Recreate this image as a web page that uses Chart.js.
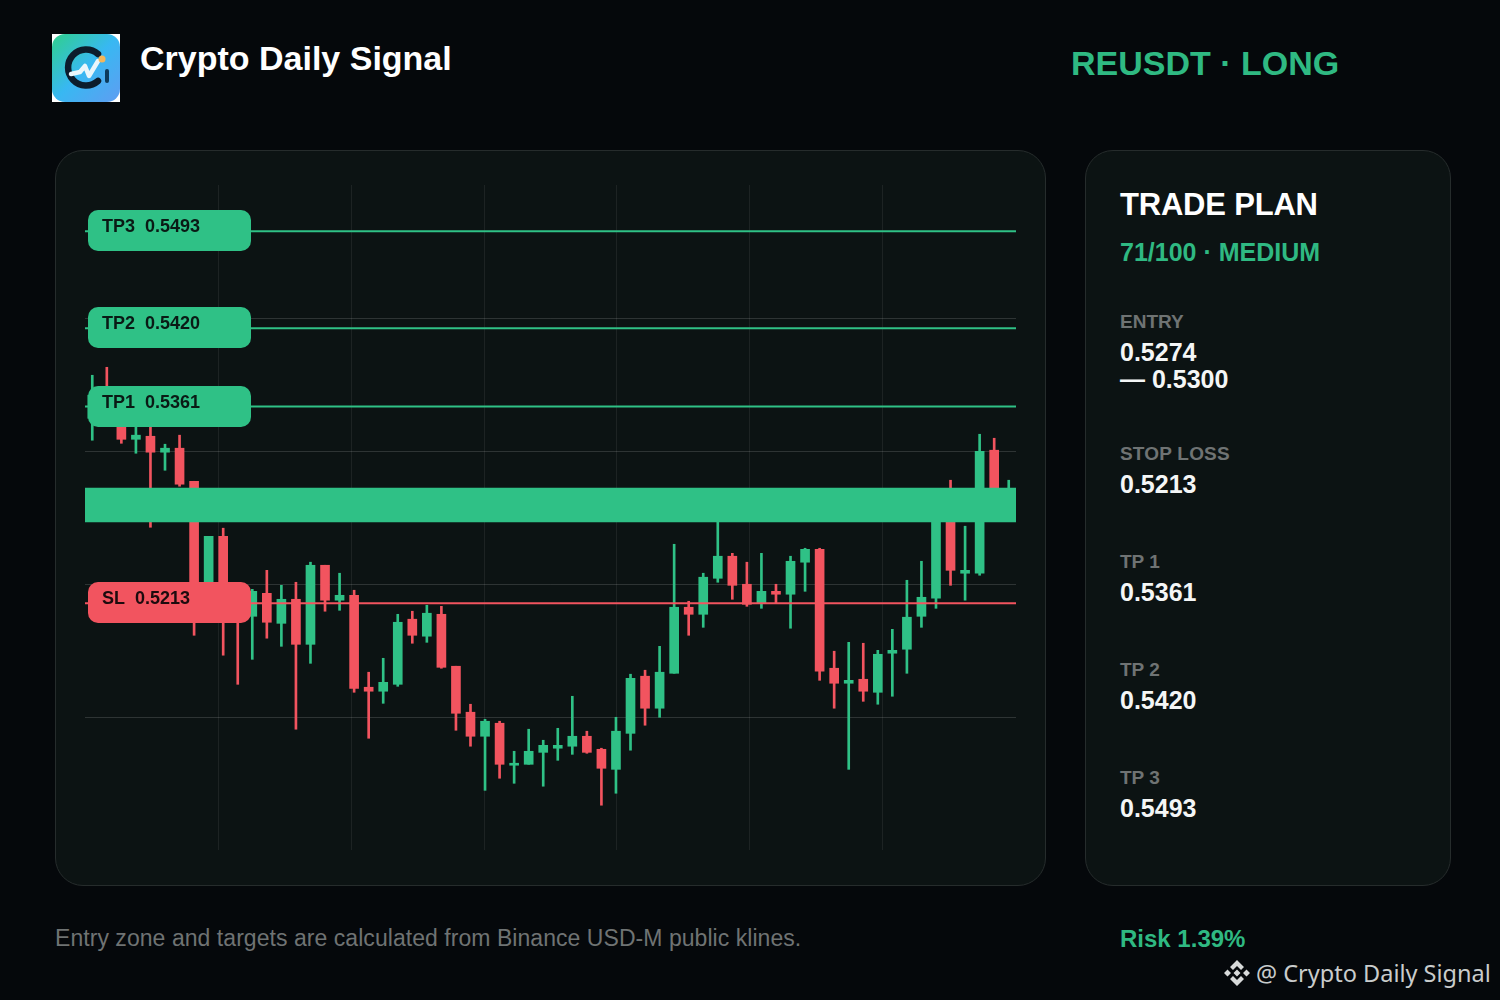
<!DOCTYPE html>
<html>
<head>
<meta charset="utf-8">
<title>REUSDT LONG</title>
<script src="https://cdn.jsdelivr.net/npm/chart.js@4/dist/chart.umd.min.js"></script>
<style>
    html, body { margin: 0; padding: 0; background: #05080b; }
    #page { position: relative; width: 1500px; height: 1000px; overflow: hidden; background: #05080b; font-family: "Liberation Sans", Arial, sans-serif; }
    .card { position: absolute; box-sizing: border-box; background: #0c1313; border: 1px solid #262c2c; border-radius: 28px; }
    .t { position: absolute; white-space: nowrap; }
    .label { left: 1120px; font-size: 19px; line-height: 19px; font-weight: bold; color: #6f7373; }
    .value { left: 1120px; font-size: 25px; line-height: 25px; font-weight: bold; color: #f4f6f6; }
    canvas { position: absolute; left: 85px; top: 185px; }
</style>
</head>
<body>
<div id="page">
    <svg style="position:absolute;left:52px;top:34px" width="68" height="68" viewBox="0 0 68 68">
        <defs>
            <linearGradient id="logoFill" x1="0" y1="0" x2="1" y2="1">
                <stop offset="0" stop-color="#2fd08c"/>
                <stop offset="0.5" stop-color="#38b8f2"/>
                <stop offset="1" stop-color="#5f9df2"/>
            </linearGradient>
        </defs>
        <rect width="68" height="68" fill="#ffffff"/>
        <rect width="68" height="68" rx="13" fill="url(#logoFill)"/>
        <path d="M46 20 A18 18 0 1 0 46 47" fill="none" stroke="#0c1c2c" stroke-width="6.5" stroke-linecap="round"/>
        <path d="M19 40 L28 38 L33 32 L37 42 L46 27" fill="none" stroke="#eaf6fb" stroke-width="4.5" stroke-linecap="round" stroke-linejoin="round"/>
        <circle cx="50" cy="25" r="3.5" fill="#f5b65a"/>
        <rect x="53" y="35" width="4" height="14" rx="2" fill="#0c3a5c"/>
    </svg>
    <div class="t" style="left:140px;top:41px;font-size:34px;line-height:34px;font-weight:bold;color:#fff">Crypto Daily Signal</div>
    <div class="t" style="left:1071px;top:46px;font-size:34px;line-height:34px;font-weight:bold;color:#2fb982">REUSDT · LONG</div>

    <div class="card" style="left:55px;top:150px;width:991px;height:736px"></div>
    <div class="card" style="left:1085px;top:150px;width:366px;height:736px"></div>
    <canvas id="chart" width="931" height="665"></canvas>

    <div class="t" style="left:1120px;top:189px;font-size:31px;line-height:31px;letter-spacing:-0.2px;font-weight:bold;color:#fff">TRADE PLAN</div>
    <div class="t" style="left:1120px;top:240px;font-size:25px;line-height:25px;font-weight:bold;color:#2fb982">71/100 · MEDIUM</div>

    <div class="t label" style="top:312px">ENTRY</div>
    <div class="t value" style="top:340px">0.5274</div>
    <div class="t value" style="top:367px">— 0.5300</div>
    <div class="t label" style="top:444px;letter-spacing:0.2px">STOP LOSS</div>
    <div class="t value" style="top:472px">0.5213</div>
    <div class="t label" style="top:552px">TP 1</div>
    <div class="t value" style="top:580px">0.5361</div>
    <div class="t label" style="top:660px">TP 2</div>
    <div class="t value" style="top:688px">0.5420</div>
    <div class="t label" style="top:768px">TP 3</div>
    <div class="t value" style="top:796px">0.5493</div>

    <div class="t" style="left:55px;top:926px;font-size:23px;line-height:24px;letter-spacing:0.05px;color:#6f7373">Entry zone and targets are calculated from Binance USD-M public klines.</div>
    <div class="t" style="left:1120px;top:927px;font-size:24px;line-height:24px;font-weight:bold;color:#2fb982">Risk 1.39%</div>

    <svg style="position:absolute;left:1223px;top:959px" width="28" height="28" viewBox="0 0 28 28">
        <path d="M14 1 L21 8 L18 11 L14 7 L10 11 L7 8 Z M14 27 L21 20 L18 17 L14 21 L10 17 L7 20 Z" fill="#d8dada"/>
        <path d="M1 14 L4.5 10.5 L8 14 L4.5 17.5 Z M20 14 L23.5 10.5 L27 14 L23.5 17.5 Z M14 10.5 L17.5 14 L14 17.5 L10.5 14 Z" fill="#d8dada"/>
    </svg>
    <div class="t" style="left:1256px;top:959px;font-family:'Noto Sans',sans-serif;font-size:23.5px;line-height:28px;color:#c9cccc">@ Crypto Daily Signal</div>
</div>

<script>
// prices
const opens = [0.53522,0.53696,0.53507,0.53364,0.53387,0.53267,0.53297,0.53048,0.52183,0.52634,0.52213,0.52032,0.52205,0.51979,0.5216,0.51821,0.52416,0.52153,0.5219,0.51498,0.51468,0.5152,0.5201,0.51882,0.52047,0.51656,0.5131,0.51129,0.51227,0.50911,0.50918,0.51008,0.51039,0.51054,0.51129,0.51031,0.5088,0.51151,0.51581,0.5134,0.51603,0.521,0.52047,0.52318,0.52484,0.52273,0.5213,0.5222,0.52198,0.52439,0.52536,0.51641,0.51528,0.51558,0.5146,0.51754,0.51784,0.52032,0.52168,0.52943,0.52356,0.52356,0.53282,0.52792];
const highs = [0.53846,0.53906,0.53545,0.53477,0.5347,0.53327,0.53395,0.53048,0.52634,0.52695,0.52265,0.52235,0.52378,0.52265,0.52288,0.52439,0.52416,0.52356,0.52228,0.51611,0.51716,0.52047,0.5207,0.52115,0.52107,0.51656,0.5137,0.51257,0.51242,0.51016,0.51182,0.51099,0.51189,0.5143,0.51167,0.51039,0.51272,0.51596,0.51626,0.51806,0.52574,0.52145,0.52356,0.5283,0.52506,0.52439,0.52506,0.52273,0.52484,0.52544,0.52544,0.51769,0.51836,0.51829,0.51776,0.51934,0.52303,0.52446,0.52943,0.53056,0.5271,0.53402,0.53372,0.53056];
const lows = [0.53357,0.53477,0.53334,0.53259,0.52702,0.53131,0.53011,0.51889,0.52077,0.51739,0.5152,0.51708,0.51867,0.51806,0.51182,0.51678,0.5207,0.52077,0.5146,0.51114,0.51377,0.51505,0.51829,0.51836,0.51641,0.51174,0.51054,0.50722,0.50813,0.50775,0.50918,0.50753,0.50948,0.50993,0.51001,0.5061,0.507,0.51024,0.51212,0.51272,0.51603,0.51889,0.51949,0.52288,0.5216,0.52107,0.52092,0.5213,0.51942,0.5222,0.5155,0.5134,0.5088,0.51392,0.5137,0.5143,0.51603,0.51949,0.52092,0.52265,0.52153,0.52341,0.52792,0.5277];
const closes = [0.53696,0.53545,0.53364,0.53395,0.53267,0.53297,0.53026,0.52153,0.52634,0.52115,0.52062,0.5222,0.51987,0.5216,0.51821,0.52416,0.52153,0.5219,0.5149,0.51468,0.51535,0.51987,0.51889,0.52055,0.51648,0.51302,0.51129,0.51242,0.50918,0.50926,0.51016,0.51061,0.51061,0.51129,0.51008,0.50888,0.51167,0.51565,0.5134,0.51611,0.521,0.52047,0.52326,0.52484,0.52265,0.52122,0.5222,0.52198,0.52446,0.52536,0.51618,0.51528,0.5155,0.51468,0.51746,0.51776,0.52025,0.52175,0.52868,0.52378,0.52378,0.53274,0.52868,0.52981];

const entryLow = 0.5274;
const entryHigh = 0.53;
const levelNames = ['TP3', 'TP2', 'TP1', 'SL'];
const levelPrices = [0.5493, 0.542, 0.5361, 0.5213];

const yTicks = [0.51272, 0.52273, 0.53274, 0.54275];
const xTicks = [8.643, 17.786, 26.929, 36.071, 45.214, 54.357];

const GREEN = '#2fc186';
const RED = '#f2545f';
const X_MIN = -0.5;
const X_MAX = 63.5;

const candleColors = closes.map((c, i) => c >= opens[i] ? GREEN : RED);

function hLine(price, color, order) {
    return {
        type: 'line',
        data: [{ x: X_MIN, y: price }, { x: X_MAX, y: price }],
        borderColor: color,
        borderWidth: 2,
        pointRadius: 0,
        fill: false,
        order: order
    };
}

// price tags sitting on the left end of each level line
const levelTags = {
    id: 'levelTags',
    afterDatasetsDraw(chart) {
        const { ctx, scales } = chart;
        ctx.save();
        levelNames.forEach((name, i) => {
            const y = Math.round(scales.y.getPixelForValue(levelPrices[i]));
            ctx.fillStyle = name === 'SL' ? RED : GREEN;
            ctx.beginPath();
            ctx.roundRect(3, y - 21, 163, 41, 10);
            ctx.fill();
            ctx.fillStyle = name === 'SL' ? '#1d0b0e' : '#0a1a15';
            ctx.font = 'bold 18px "Liberation Sans", Arial, sans-serif';
            ctx.textBaseline = 'middle';
            ctx.fillText(name + '  ' + levelPrices[i].toFixed(4), 17, y - 3.5);
        });
        ctx.restore();
    }
};

new Chart(document.getElementById('chart'), {
    data: {
        datasets: [
            {
                type: 'bar',
                data: highs.map((h, i) => ({ x: i, y: [lows[i], h] })),
                backgroundColor: candleColors,
                barThickness: 2,
                grouped: false,
                order: 5
            },
            {
                type: 'bar',
                data: opens.map((o, i) => ({ x: i, y: [o, closes[i]] })),
                backgroundColor: candleColors,
                barThickness: 9,
                grouped: false,
                order: 4
            },
            { ...hLine(entryLow, GREEN, 3), borderWidth: 0 },
            { ...hLine(entryHigh, GREEN, 3), borderWidth: 0, fill: '-1', backgroundColor: GREEN },
            ...levelNames.map((name, i) => hLine(levelPrices[i], name === 'SL' ? RED : GREEN, 2))
        ]
    },
    options: {
        responsive: false,
        animation: false,
        layout: { padding: 0 },
        plugins: { legend: { display: false }, tooltip: { enabled: false } },
        scales: {
            x: {
                type: 'linear',
                offset: false,
                min: X_MIN,
                max: X_MAX,
                afterBuildTicks: axis => { axis.ticks = xTicks.map(v => ({ value: v })); },
                ticks: { display: false },
                grid: { color: 'rgba(255,255,255,0.07)', drawTicks: false, offset: false },
                border: { display: false }
            },
            y: {
                min: 0.50273,
                max: 0.55278,
                afterBuildTicks: axis => { axis.ticks = yTicks.map(v => ({ value: v })); },
                ticks: { display: false },
                grid: { color: 'rgba(255,255,255,0.14)', drawTicks: false },
                border: { display: false }
            }
        }
    },
    plugins: [levelTags]
});
</script>
</body>
</html>
